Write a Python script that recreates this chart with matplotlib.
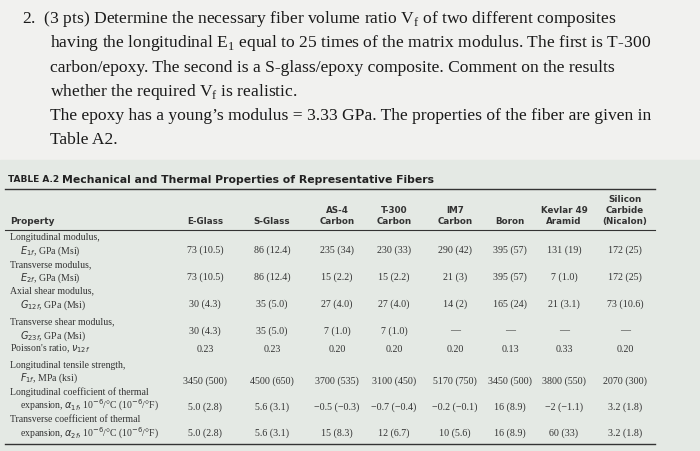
import matplotlib.pyplot as plt
from matplotlib.patches import Rectangle

# question text, (line, left x)
question = [
    ("2.  (3 pts) Determine the necessary fiber volume ratio V$_\\mathregular{f}$ of two different composites", 22),
    ("having the longitudinal E$_\\mathregular{1}$ equal to 25 times of the matrix modulus. The first is T-300", 50),
    ("carbon/epoxy. The second is a S-glass/epoxy composite. Comment on the results", 50),
    ("whether the required V$_\\mathregular{f}$ is realistic.", 50),
    ("The epoxy has a young\u2019s modulus = 3.33 GPa. The properties of the fiber are given in", 50),
    ("Table A2.", 50),
]

fibers = ["E-Glass", "S-Glass", "AS-4\nCarbon", "T-300\nCarbon", "IM7\nCarbon",
          "Boron", "Kevlar 49\nAramid", "Silicon\nCarbide\n(Nicalon)"]

properties = [
    ("Longitudinal modulus,", "$E_{1f}$, GPa (Msi)"),
    ("Transverse modulus,", "$E_{2f}$, GPa (Msi)"),
    ("Axial shear modulus,", "$G_{12f}$, GPa (Msi)"),
    ("Transverse shear modulus,", "$G_{23f}$, GPa (Msi)"),
    ("Poisson's ratio, $\\nu_{12f}$", None),
    ("Longitudinal tensile strength,", "$F_{1f}$, MPa (ksi)"),
    ("Longitudinal coefficient of thermal", "expansion, $\\alpha_{1f}$, 10$^{-6}$/\u00b0C (10$^{-6}$/\u00b0F)"),
    ("Transverse coefficient of thermal", "expansion, $\\alpha_{2f}$, 10$^{-6}$/\u00b0C (10$^{-6}$/\u00b0F)"),
]

values = [
    ["73 (10.5)", "86 (12.4)", "235 (34)", "230 (33)", "290 (42)", "395 (57)", "131 (19)", "172 (25)"],
    ["73 (10.5)", "86 (12.4)", "15 (2.2)", "15 (2.2)", "21 (3)", "395 (57)", "7 (1.0)", "172 (25)"],
    ["30 (4.3)", "35 (5.0)", "27 (4.0)", "27 (4.0)", "14 (2)", "165 (24)", "21 (3.1)", "73 (10.6)"],
    ["30 (4.3)", "35 (5.0)", "7 (1.0)", "7 (1.0)", "\u2014", "\u2014", "\u2014", "\u2014"],
    ["0.23", "0.23", "0.20", "0.20", "0.20", "0.13", "0.33", "0.20"],
    ["3450 (500)", "4500 (650)", "3700 (535)", "3100 (450)", "5170 (750)", "3450 (500)", "3800 (550)", "2070 (300)"],
    ["5.0 (2.8)", "5.6 (3.1)", "\u22120.5 (\u22120.3)", "\u22120.7 (\u22120.4)", "\u22120.2 (\u22120.1)", "16 (8.9)", "\u22122 (\u22121.1)", "3.2 (1.8)"],
    ["5.0 (2.8)", "5.6 (3.1)", "15 (8.3)", "12 (6.7)", "10 (5.6)", "16 (8.9)", "60 (33)", "3.2 (1.8)"],
]

col_x = [205, 272, 337, 394, 455, 510, 564, 625]
label_y = [[238, 251], [265, 278], [291, 305], [322, 336], [349, None], [365, 378], [392, 405], [420, 433]]
value_y = [250, 277, 304, 331, 349, 381, 407, 433]
serif = "Liberation Serif"
sans = "DejaVu Sans"

fig = plt.figure(figsize=(7, 4.51), dpi=100)
ax = fig.add_axes([0, 0, 1, 1])
ax.set_xlim(0, 700)
ax.set_ylim(451, 0)
ax.axis("off")
fig.patch.set_facecolor("#f1f1ef")
ax.add_patch(Rectangle((0, 160), 700, 291, color="#e4e9e4", zorder=0))

for i, (line, x) in enumerate(question):
    ax.text(x, 19 + i * 24.3, line, family=serif, fontsize=12.6,
            va="center", ha="left", color="#1a1a1a")

ax.text(8, 180, "TABLE A.2", family=sans, fontsize=6.5, weight="bold", va="center", color="#222")
ax.text(62, 180, "Mechanical and Thermal Properties of Representative Fibers", family=sans,
        fontsize=7.8, weight="bold", va="center", color="#222")
ax.plot([5, 655], [189, 189], color="#333", lw=1.0)
ax.plot([5, 655], [230, 230], color="#333", lw=0.8)
ax.plot([5, 655], [444, 444], color="#333", lw=1.0)

ax.text(10, 221, "Property", family=sans, fontsize=6.5, weight="bold", va="center", color="#333")
for x, name in zip(col_x, fibers):
    ax.text(x, 226, name, family=sans, fontsize=6.3, weight="bold", ha="center", va="bottom",
            color="#333", linespacing=1.25)

for (l1, l2), (y1, y2) in zip(properties, label_y):
    ax.text(10, y1, l1, family=serif, fontsize=7, va="center", color="#333")
    if l2:
        ax.text(20, y2, l2, family=serif, fontsize=7, va="center", color="#333")

for row, y in zip(values, value_y):
    for x, v in zip(col_x, row):
        ax.text(x, y, v, family=serif, fontsize=7.2, ha="center", va="center", color="#333")

fig.savefig("out.png", dpi=100, facecolor=fig.get_facecolor())
